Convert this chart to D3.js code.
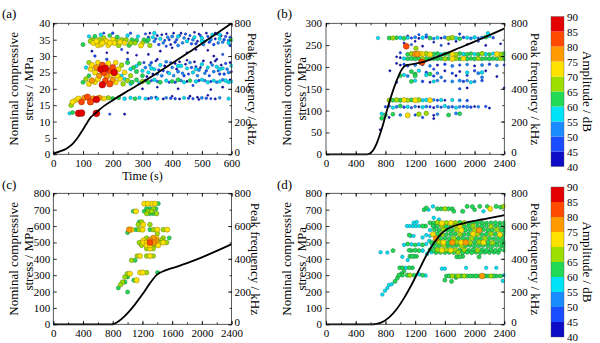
<!DOCTYPE html>
<html lang="en">
<head>
  <meta charset="utf-8" />
  <title>AE amplitude vs stress</title>
  <style>
    body { margin: 0; background: #fff; }
    svg { display: block; }
    svg text { font-family: "Liberation Serif", "Times New Roman", serif; fill: #000; }
    .tick line { stroke: #000; stroke-width: 0.8; }
    .tick text { font-size: 11px; }
    path.domain { display: none; }
  </style>
</head>
<body>
<div id="graphic"></div>
<script src="https://cdn.jsdelivr.net/npm/d3@7"></script>
<script>
// ---- data ----
var ampBreaks = [40, 45, 50, 55, 60, 65, 70, 75, 80, 85, 90];
var ampColours = ["#0c0cc4", "#1a4dff", "#1a8cff", "#00e2f6", "#22d955", "#9ddd00", "#ffe200", "#ff9a00", "#ff4a00", "#e40000"];
var freqTicks = [0, 200, 400, 600, 800];

var timeTicksA = [0, 100, 200, 300, 400, 500, 600];
var timeTicksB = [0, 400, 800, 1200, 1600, 2000, 2400];
var stressTicksA = [0, 5, 10, 15, 20, 25, 30, 35, 40];
var stressTicksB = [0, 50, 100, 150, 200, 250, 300];
var stressTicksC = [0, 100, 200, 300, 400, 500, 600, 700, 800];

// stress curves [time s, stress MPa]
var stressA = [[0,0.2],[20,0.8],[45,1.8],[65,3.2],[80,4.8],[100,7.6],[115,9.8],[125,11.2],[140,12.4],[155,13.6],[170,14.7],[200,16.5],[250,19.3],[300,22],[350,24.8],[400,27.8],[450,30.8],[500,33.8],[550,36.9],[600,40]];
var stressB = [[0,0],[550,0],[590,2],[630,8],[680,24],[750,58],[850,118],[950,168],[1020,194],[1080,204],[1150,206],[1300,211],[1400,217],[1600,230],[1800,244],[2000,258],[2200,273],[2400,288]];
var stressC = [[0,0],[780,0],[820,3],[870,15],[950,45],[1000,68],[1100,122],[1200,183],[1300,250],[1400,305],[1450,318],[1500,328],[1600,343],[1800,374],[2000,409],[2200,448],[2400,490]];
var stressD = [[0,0],[620,0],[680,3],[750,12],[850,42],[950,92],[1050,160],[1150,240],[1250,330],[1350,420],[1450,495],[1550,552],[1650,586],[1750,605],[1900,622],[2100,640],[2300,657],[2400,667]];

// AE hits [time s, peak frequency kHz, amplitude dB]
var hitsA = [
  [100,670,62],[120,720,55],[130,700,65],[135,680,72],[140,720,62],[150,665,70],[155,700,68],[160,730,58],[165,680,74],[170,710,66],
  [180,690,72],[185,665,70],[190,725,60],[200,700,70],[205,680,72],[215,715,64],[220,665,68],[230,700,66],[240,680,70],[250,725,58],
  [255,665,64],[265,700,62],[275,680,66],[285,720,56],[295,665,72],[305,700,60],[315,690,62],[325,665,66],[335,715,55],
  [125,690,68],[145,690,74],[160,670,72],[175,695,70],[190,680,74],[210,695,68],[225,685,72],[245,700,66],[260,680,68],[280,695,64],
  [300,680,66],[320,700,62],
  [310,735,45],[320,715,48],[340,690,52],[350,725,44],[360,705,56],[370,680,50],[380,735,42],[390,700,46],[400,720,54],[410,685,48],
  [420,665,52],[430,740,43],[440,710,50],[450,690,56],[460,725,45],[470,700,52],[480,675,48],[490,735,42],[500,710,57],[510,690,50],
  [520,720,46],[530,700,54],[540,670,48],[550,735,44],[560,705,56],[570,685,50],[580,720,47],[590,695,53],[600,700,62],[595,665,48],
  [545,740,42],[475,745,43],[380,660,45],[260,740,46],[200,740,48],[170,740,45],
  [315,690,44],[325,740,42],[345,705,46],[355,670,48],[365,730,43],[375,695,45],[385,715,50],[395,670,44],[405,740,42],[415,700,47],
  [425,725,44],[435,680,50],[445,735,46],[455,705,42],[465,675,48],[475,715,55],[485,690,44],[495,725,46],[505,670,52],[515,740,43],
  [525,685,48],[535,730,55],[545,705,44],[555,680,50],[565,725,43],[575,700,48],[585,740,44],[595,715,46],[590,680,56],[340,740,57],
  [420,720,57],[500,690,58],[560,730,57],
  [130,630,44],[180,620,42],[230,640,45],[320,610,43],[400,650,42],[450,620,44],[520,635,43],[570,610,45],[140,600,48],[280,605,42],
  [250,620,43],[360,630,44],[480,640,42],[540,600,44],
  [120,560,66],[125,520,70],[130,545,74],[140,500,72],[145,530,78],[150,560,70],[155,480,76],[160,520,85],[165,545,80],[170,500,84],
  [175,525,86],[180,475,78],[185,555,72],[190,510,80],[195,490,74],[200,530,82],[205,500,86],[210,560,70],[215,480,74],[220,520,72],
  [230,545,68],[240,500,70],[250,560,64],[260,480,66],[270,530,62],[280,505,64],[290,555,60],[300,480,62],[120,480,60],[110,530,56],
  [310,530,52],[320,500,56],[330,560,48],[340,520,55],[350,490,50],[360,545,57],[370,510,46],[380,565,52],[390,495,56],[400,530,50],
  [410,555,44],[420,505,54],[430,540,57],[440,480,48],[450,525,55],[460,560,50],[470,500,56],[480,535,46],[490,515,54],[500,550,57],
  [510,495,50],[520,530,55],[530,560,44],[540,505,52],[550,535,56],[560,490,48],[570,525,55],[580,555,46],[590,500,52],[600,540,56],
  [600,505,44],[250,580,46],[350,580,43],[450,575,42],[550,580,44],[180,580,48],
  [305,560,46],[315,475,44],[325,545,50],[335,490,44],[345,570,42],[355,515,48],[365,480,52],[375,540,44],[385,500,48],[395,560,46],
  [405,480,50],[415,520,44],[425,565,42],[435,495,50],[445,550,44],[455,490,46],[465,530,48],[475,565,44],[485,480,50],[495,530,42],
  [505,570,44],[515,510,48],[525,480,46],[535,545,50],[545,570,43],[555,510,46],[565,545,44],[575,490,48],[585,520,50],[595,560,44],
  [230,480,55],[260,520,58],[280,540,56],[300,510,57],[330,525,58],[420,540,58],[480,520,57],[560,520,58],
  [100,440,62],[110,460,68],[120,430,72],[130,450,76],[140,440,70],[150,460,74],[165,425,86],[175,450,80],[190,430,84],[200,455,76],
  [210,440,72],[225,460,70],[235,430,68],[250,450,66],[265,440,64],[280,455,62],[300,445,66],[320,440,62],[340,455,58],[360,440,62],
  [380,450,57],[400,445,60],[420,455,64],[440,440,56],[460,450,60],[480,445,58],[500,455,56],[520,440,57],[540,450,55],[560,445,56],
  [580,450,58],[600,445,57],[590,440,55],[570,455,52],[510,450,50],[410,440,48],[330,450,46],[240,460,55],
  [310,450,48],[350,445,50],[390,440,46],[430,450,50],[450,445,44],[490,450,48],[530,445,46],[550,440,50],[595,455,44],[260,430,56],[290,435,58],
  [300,400,44],[350,410,42],[420,400,43],[470,420,45],[530,395,42],[570,410,44],
  [60,300,68],[65,320,72],[75,330,70],[85,340,74],[95,320,80],[105,345,76],[115,350,82],[125,320,84],[135,340,78],[145,335,86],
  [155,345,76],[170,340,70],[185,345,66],[200,340,62],[220,345,60],[240,340,58],[260,345,56],[275,340,60],[290,345,57],[310,340,55],
  [330,345,52],[350,340,56],[380,345,50],[410,340,48],[440,345,55],[470,340,46],[500,345,52],[530,340,45],[560,345,50],[460,355,44],
  [490,335,43],[590,340,56],
  [320,340,44],[345,348,46],[370,338,44],[395,342,48],[425,338,44],[455,342,46],[485,348,44],[515,342,48],[545,338,44],[400,355,42],[520,360,42],
  [55,250,56],[65,255,60],[85,250,86],[95,252,88],[145,250,88],[190,245,45],[240,245,44]
];

var hitsB = [
  [700,710,57],[850,710,62],[900,710,66],[950,712,60],[1000,712,58],[1050,708,64],[1100,712,56],[1150,710,46],[1200,715,52],[1250,708,44],
  [1300,712,58],[1350,716,48],[1400,710,62],[1450,706,50],[1500,712,57],[1550,710,44],[1600,714,54],[1650,708,66],[1700,712,68],[1750,710,56],
  [1800,706,60],[1850,714,48],[1900,712,56],[1950,708,52],[2000,714,58],[2050,710,45],[2100,712,54],[2150,716,62],[2200,722,57],[2250,712,48],
  [1250,730,45],[1350,728,50],[1100,722,44],[1800,735,46],[2180,740,55],
  [1050,680,42],[1150,670,45],[1200,690,43],[1300,660,44],[1450,685,42],[1550,665,45],[1650,675,43],[1750,690,44],[1900,670,42],[2050,690,45],
  [2150,665,43],[2350,675,42],[1080,660,80],[1210,648,66],
  [1000,620,46],[1100,610,62],[1150,615,66],[1200,612,76],[1230,612,78],[1260,615,74],[1300,612,70],[1350,615,66],[1400,610,72],[1450,612,64],
  [1500,615,62],[1550,610,58],[1600,612,64],[1650,615,60],[1700,612,70],[1750,610,66],[1800,615,62],[1850,612,58],[1900,610,64],[1950,615,60],
  [2000,612,56],[2050,610,62],[2100,615,66],[2150,612,58],[2200,610,60],[2250,615,56],[2300,612,72],[2350,610,68],[2400,615,62],
  [1050,585,58],[1100,583,60],[1150,585,64],[1200,583,62],[1250,585,60],[1300,583,66],[1350,585,62],[1400,583,60],[1450,585,64],[1500,583,60],
  [1550,585,62],[1600,583,68],[1650,585,62],[1700,583,72],[1750,585,66],[1800,583,62],[1850,585,70],[1900,583,64],[1950,585,60],[2000,583,62],
  [2050,585,66],[2100,583,62],[2150,585,60],[2200,583,64],[2250,585,62],[2300,583,60],[2350,585,66],[2400,583,62],[1000,590,44],[950,595,42],
  [1290,563,84],
  [1000,545,44],[1050,550,46],[1100,540,48],[1200,545,52],[1300,548,46],[1400,540,50],[1500,545,44],[1600,550,48],[1700,540,52],[1800,545,46],
  [1900,548,50],[2000,540,44],[2100,545,52],[2200,550,48],[2300,542,50],[2400,545,46],[950,555,43],[860,510,44],
  [1150,505,62],[1200,490,60],[1250,510,56],[1350,500,48],[1400,490,60],[1450,520,45],[1500,495,50],[1600,510,44],[1700,495,46],[1800,505,44],
  [1900,500,56],[2000,510,48],[2050,495,54],[2100,500,58],[2150,510,44],
  [1000,480,60],[1050,485,56],[1100,478,52],[1200,480,64],[1350,485,58],[1450,478,48],[1550,470,50],[1750,480,44],[1900,482,46],[2100,470,52],
  [2300,475,44],
  [950,440,46],[1150,445,62],[1200,450,56],[1300,445,48],[1400,440,44],[1450,445,55],[1500,450,50],[1600,448,46],[1700,445,52],[1800,450,54],
  [1850,445,48],[1900,450,50],[1950,440,56],[2000,445,52],[2100,450,48],[2400,405,44],[1800,400,46],[1900,405,44],
  [850,330,66],[900,330,62],[950,332,68],[1000,330,64],[1050,332,70],[1100,330,66],[1150,332,62],[1200,330,72],[1250,332,68],[1300,330,56],
  [1350,332,58],[1400,330,70],[1450,332,50],[1500,330,46],[1550,332,56],[1600,330,44],[1700,332,56],[1800,330,52],[1900,328,48],
  [800,290,46],[850,295,48],[900,285,56],[950,290,52],[1000,295,62],[1050,288,48],[1100,290,56],[1150,285,46],[1200,292,50],[1250,290,44],
  [1300,288,56],[1350,292,52],[1400,290,46],[1450,285,44],[1500,292,50],[1550,288,46],[1600,295,56],[1650,288,52],[1700,290,48],[1750,285,56],
  [1800,290,50],[1850,292,46],[1900,290,54],[1950,288,48],[2000,292,44],[2050,290,50],[2150,292,46],[2200,282,44],
  [750,248,56],[800,240,62],[900,245,60],[1000,240,50],[1100,238,72],[1200,240,46],[1250,245,68],[1350,250,66],[1450,238,44],[1500,245,50],
  [1650,240,62],[1800,248,60],[1750,250,52],
  [750,220,62],[850,225,44],[1300,225,46],[1450,218,44],[730,150,44]
];

var hitsC = [
  [1225,737,72],[1270,737,72],[1323,737,70],[1368,737,72],[1413,737,62],
  [1256,706,64],[1301,706,62],[1346,706,66],[1382,706,62],
  [1077,690,62],[1113,690,72],[1225,690,62],[1278,690,67],[1323,690,67],
  [1256,676,67],[1301,676,64],[1346,676,62],[1391,676,67],
  [1157,625,62],[1189,625,67],[1144,609,67],[1211,609,72],[1301,609,67],
  [1023,578,78],[1054,578,72],[1113,578,62],[1157,578,67],[1202,578,72],[1301,578,62],[1346,578,67],[1400,578,72],[1480,578,67],[1534,578,72],
  [1000,560,62],[1400,554,67],
  [1256,527,67],[1346,527,78],[1391,527,72],[1480,527,67],[1561,527,62],
  [1211,513,72],[1301,513,78],[1382,513,77],[1458,513,67],
  [1157,499,67],[1211,499,72],[1256,499,72],[1301,499,80],[1346,499,78],[1391,499,72],[1436,499,67],[1480,499,72],[1525,499,67],
  [1189,482,67],[1256,482,72],[1301,482,74],[1355,482,67],[1413,482,72],
  [1256,462,67],[1301,462,72],[1346,462,67],
  [1130,417,67],[1166,417,72],[1256,417,67],[1301,417,72],[1346,417,67],
  [1054,391,67],[1099,391,64],
  [1166,316,70],[1202,316,74],[1256,316,67],[1404,316,62],
  [996,309,67],[1032,309,72],[964,289,67],[1000,289,62],[1086,269,64],[1121,269,74],
  [933,258,67],[964,258,64],[906,242,67],[875,222,62],[1000,197,62]
];

var hitsD = [
  [735,440,57],[826,438,57],[902,450,62],
  [758,182,57],[794,205,57],[826,222,55],[848,240,57],[884,245,57],[929,262,62],[961,282,62],[983,300,64],[1019,310,62],[1051,325,60],
  [992,345,60],[1028,345,62],[1074,345,57],[1119,345,62],[1164,345,60],[1560,340,57],[1600,340,57],[1886,345,56],[2156,345,57],[2292,345,56],
  [1028,300,62],[1096,300,64],[1128,300,66],[1186,300,62],[1254,305,57],[1300,300,62],[1340,298,58],
  [1620,295,60],[1660,295,64],[1700,295,67],[1740,295,62],[1780,295,67],[1820,295,64],[1860,295,67],[1900,295,62],[1940,295,64],[1980,295,62],
  [2020,295,64],[2060,295,60],[2100,295,77],[2140,295,64],[2180,295,62],[2220,295,66],[2260,295,64],[2300,295,60],[2350,295,62],[2400,300,57],
  [1600,270,62],[1690,262,62],[2380,265,57],[1750,285,60],
  [1100,392,57],[1028,412,57],[1130,415,62],[1160,415,64],[1190,415,62],[1220,415,60],
  [1120,452,62],[1150,450,60],[1200,452,64],[1250,450,62],[1300,450,57],
  [1050,485,57],[1100,490,62],[1150,488,57],[1200,485,60],[1250,488,57],[1300,485,62],[1350,490,57],
  [1120,545,62],[1140,540,57],[1180,540,55],[1300,530,57],
  [1090,600,57],[1130,600,57],[1170,600,56],[1210,600,55],[1250,600,57],[1300,600,64],[1340,600,62],[1180,620,57],[1220,625,57],
  [1320,700,62],[1350,710,64],[1380,700,57],[1440,720,57],[1500,705,64],[1550,705,62],[1600,705,67],[1650,705,64],[1700,705,62],[1720,690,62],
  [1840,690,64],[1900,720,62],[1970,718,64],[2000,700,60],[2070,720,62],[2120,690,57],[2170,720,60],[2210,705,72],[2290,720,64],[2350,715,62],[2390,720,66],
  [1400,620,62],[1450,618,64],[1500,622,67],[1560,618,72],[1620,620,67],[1680,620,72],[1740,620,67],[1800,622,64],[1860,620,67],[1920,618,62],
  [1980,620,64],[2040,622,62],[2100,620,64],[2160,618,62],[2220,620,60],[2280,620,64],[2340,618,62],[2400,620,60],
  [1440,600,64],[1500,600,62],[1560,602,67],[1620,598,64],[1680,600,62],[1740,602,67],[1800,600,72],[1860,598,64],[1920,600,62],[1980,602,67],
  [2040,600,62],[2100,600,64],[2160,602,62],[2220,598,67],[2280,600,62],[2340,602,64],[2400,600,62],
  [1400,575,57],[1460,578,62],[1520,575,64],[1580,578,67],[1640,575,64],[1700,575,62],[1760,578,67],[1820,575,72],[1880,575,64],[1940,578,62],
  [2000,575,67],[2060,575,77],[2120,578,62],[2180,575,64],[2240,575,62],[2300,578,67],[2360,575,64],[2400,575,62],
  [1440,550,72],[1500,552,64],[1560,550,67],[1620,548,62],[1680,550,64],[1740,552,62],[1800,550,67],[1860,548,62],[1920,550,64],[1980,552,72],
  [2040,550,67],[2100,548,62],[2160,550,64],[2220,552,67],[2280,550,64],[2340,548,72],[2400,550,62],
  [1480,523,77],[1540,525,64],[1600,525,62],[1660,522,64],[1720,525,67],[1780,525,62],[1840,525,64],[1900,522,62],[1960,525,67],[2020,525,64],
  [2080,522,62],[2140,525,67],[2200,525,64],[2260,522,62],[2320,525,64],[2380,525,62],
  [1420,500,62],[1470,500,64],[1520,502,67],[1580,500,72],[1640,498,64],[1700,500,77],[1760,502,67],[1820,500,72],[1880,500,77],[1940,498,67],
  [2000,500,64],[2060,502,67],[2120,500,72],[2180,500,64],[2240,498,67],[2300,500,62],[2360,502,64],[2400,500,62],
  [1460,478,64],[1520,480,62],[1580,482,67],[1640,478,62],[1700,480,64],[1760,482,62],[1820,478,67],[1880,480,64],[1940,482,62],[2000,478,64],
  [2060,480,62],[2120,482,64],[2180,478,62],[2240,480,64],[2300,482,62],[2360,478,60],[2400,480,62],
  [1400,455,62],[1450,452,64],[1500,455,67],[1560,452,72],[1620,455,67],[1680,452,72],[1740,455,67],[1800,452,64],[1860,455,67],[1920,452,62],
  [1980,455,64],[2040,452,67],[2100,455,62],[2160,452,64],[2220,455,62],[2280,452,64],[2340,455,62],[2400,452,60],
  [1420,440,57],[1480,438,62],[1540,440,64],[1600,438,62],[1660,440,64],[1720,438,62],[1780,440,67],[1840,438,64],[1900,440,62],[1960,438,64],
  [2020,440,62],[2080,438,64],[2140,440,62],[2200,438,60],[2260,440,62],[2320,438,60],
  [1760,412,62],[1800,412,64],[1840,415,62],[2060,412,62],
  [1450,650,57],[1520,640,57],[1470,600,57],[1350,545,57],[1400,540,55],[1390,510,57],[1430,480,57],[1300,450,57],[1360,430,57]
];

// ---- layout ----
var W = 600, H = 343;
var pw = 178.3, ph = 131;
var serif = '"Liberation Serif", "Times New Roman", serif';

var panels = [
  {label: "(a)", lx: 2, ly: 18, left: 53.3, top: 23.3, hits: hitsA, stress: stressA, tMax: 600, tTicks: timeTicksA, tMinor: 50,
   sMax: 40, sTicks: stressTicksA, lPad: 3, rPad: 3, rTitle: 253, lTitle: [13, 28], timeTitle: true},
  {label: "(b)", lx: 277, ly: 18, left: 326, top: 23.3, hits: hitsB, stress: stressB, tMax: 2400, tTicks: timeTicksB, tMinor: 200,
   sMax: 300, sTicks: stressTicksB, lPad: 4, rPad: 7, rTitle: 536, lTitle: [286, 301]},
  {label: "(c)", lx: 2, ly: 189, left: 53.3, top: 193.3, hits: hitsC, stress: stressC, tMax: 2400, tTicks: timeTicksB, tMinor: 200,
   sMax: 800, sTicks: stressTicksC, lPad: 3, rPad: 3, rTitle: 256, lTitle: [13, 28]},
  {label: "(d)", lx: 277, ly: 189, left: 326, top: 193.3, hits: hitsD, stress: stressD, tMax: 2400, tTicks: timeTicksB, tMinor: 200,
   sMax: 800, sTicks: stressTicksC, lPad: 4, rPad: 7, rTitle: 536, lTitle: [286, 301]}
];

var colourbars = [{x: 551, top: 16.5, bottom: 166.5, title: 588}, {x: 551, top: 187, bottom: 337, title: 588}];

var ampColour = d3.scaleThreshold().domain(ampBreaks.slice(1, -1)).range(ampColours);
var ampRadius = d3.scaleLinear().domain([40, 90]).range([0.9, 3.5]).clamp(true);

var svg = d3.select("#graphic").append("svg").attr("width", W).attr("height", H);

// d3 axes put sans-serif on their group, swap it for the serif face
function serifAxis(sel) {
  sel.attr("font-family", serif).attr("font-size", 11);
}

panels.forEach(function(p, i) {
  var x = d3.scaleLinear().domain([0, p.tMax]).range([0, pw]);
  var yL = d3.scaleLinear().domain([0, p.sMax]).range([ph, 0]);
  var yR = d3.scaleLinear().domain([0, 800]).range([ph, 0]);

  var g = svg.append("g").attr("transform", "translate(" + p.left + "," + p.top + ")");

  g.append("clipPath").attr("id", "clip" + i)
    .append("rect").attr("x", -1).attr("y", -1).attr("width", pw + 2).attr("height", ph + 2);

  // AE hits, quiet ones first so loud ones sit on top
  var hits = p.hits.slice().sort(function(a, b) { return a[2] - b[2]; });
  g.append("g").attr("clip-path", "url(#clip" + i + ")")
    .selectAll("circle").data(hits).enter().append("circle")
    .attr("cx", function(d) { return x(d[0]); })
    .attr("cy", function(d) { return yR(d[1]); })
    .attr("r", function(d) { return ampRadius(d[2]); })
    .attr("fill", function(d) { return ampColour(d[2]); })
    .attr("stroke", function(d) { return d3.color(ampColour(d[2])).darker(1.6); })
    .attr("stroke-width", 0.5);

  // stress curve
  var line = d3.line()
    .x(function(d) { return x(d[0]); })
    .y(function(d) { return yL(d[1]); })
    .curve(d3.curveMonotoneX);
  g.append("path").datum(p.stress)
    .attr("d", line)
    .attr("fill", "none").attr("stroke", "#000").attr("stroke-width", 1.8);

  // frame
  g.append("rect").attr("width", pw).attr("height", ph)
    .attr("fill", "none").attr("stroke", "#333").attr("stroke-width", 0.8);

  // axes, ticks inward
  var minorT = d3.range(0, p.tMax + 1, p.tMinor);
  g.append("g").attr("transform", "translate(0," + ph + ")")
    .call(d3.axisBottom(x).tickValues(minorT).tickSize(-2).tickFormat(""));
  g.append("g").attr("transform", "translate(0," + ph + ")")
    .call(d3.axisBottom(x).tickValues(p.tTicks).tickSize(-3.5).tickPadding(5).tickFormat(d3.format("d")))
    .call(serifAxis);
  g.append("g").call(d3.axisTop(x).tickValues(minorT).tickSize(-2).tickFormat(""));
  g.append("g").call(d3.axisTop(x).tickValues(p.tTicks).tickSize(-3.5).tickFormat(""));

  g.append("g").call(d3.axisLeft(yL).tickValues(p.sTicks).tickSize(-3.5).tickPadding(p.lPad))
    .call(serifAxis);
  g.append("g").attr("transform", "translate(" + pw + ",0)")
    .call(d3.axisRight(yR).tickValues(d3.range(0, 801, 100)).tickSize(-2).tickFormat(""));
  g.append("g").attr("transform", "translate(" + pw + ",0)")
    .call(d3.axisRight(yR).tickValues(freqTicks).tickSize(-3.5).tickPadding(p.rPad))
    .call(serifAxis)
    .selectAll(".tick text").attr("dy", function(d) { return d === 0 ? "0.1em" : "0.32em"; });

  // titles
  svg.append("text").attr("x", p.lx).attr("y", p.ly)
    .attr("font-size", 13).text(p.label);

  var cy = p.top + ph / 2;
  svg.append("text")
    .attr("transform", "translate(" + p.lTitle[0] + "," + cy + ") rotate(-90)")
    .attr("text-anchor", "middle").attr("dy", "0.35em").attr("font-size", 13)
    .text("Nominal compressive");
  svg.append("text")
    .attr("transform", "translate(" + p.lTitle[1] + "," + cy + ") rotate(-90)")
    .attr("text-anchor", "middle").attr("dy", "0.35em").attr("font-size", 13)
    .text("stress / MPa");
  svg.append("text")
    .attr("transform", "translate(" + p.rTitle + "," + cy + ") rotate(90)")
    .attr("text-anchor", "middle").attr("dy", "0.35em").attr("font-size", 13)
    .text("Peak frequency / kHz");

  if (p.timeTitle) {
    svg.append("text").attr("x", p.left + pw / 2).attr("y", 180)
      .attr("text-anchor", "middle").attr("font-size", 12).text("Time (s)");
  }
});

// colour bars
colourbars.forEach(function(cb) {
  var yc = d3.scaleLinear().domain([40, 90]).range([cb.bottom, cb.top]);
  var k = svg.append("g");
  k.selectAll("rect").data(ampColours).enter().append("rect")
    .attr("x", cb.x).attr("width", 13)
    .attr("y", function(d, i) { return yc(ampBreaks[i + 1]); })
    .attr("height", function(d, i) { return yc(ampBreaks[i]) - yc(ampBreaks[i + 1]); })
    .attr("fill", function(d) { return d; });
  k.append("rect").attr("x", cb.x).attr("y", cb.top).attr("width", 13).attr("height", cb.bottom - cb.top)
    .attr("fill", "none").attr("stroke", "#555").attr("stroke-width", 0.4);
  k.append("g").attr("transform", "translate(" + (cb.x + 13) + ",0)")
    .call(d3.axisRight(yc).tickValues(ampBreaks).tickSize(0).tickPadding(3))
    .call(serifAxis);
  svg.append("text")
    .attr("transform", "translate(" + cb.title + "," + (cb.top + cb.bottom) / 2 + ") rotate(90)")
    .attr("text-anchor", "middle").attr("dy", "0.35em").attr("font-size", 13)
    .text("Amplitude / dB");
});
</script>
</body>
</html>
